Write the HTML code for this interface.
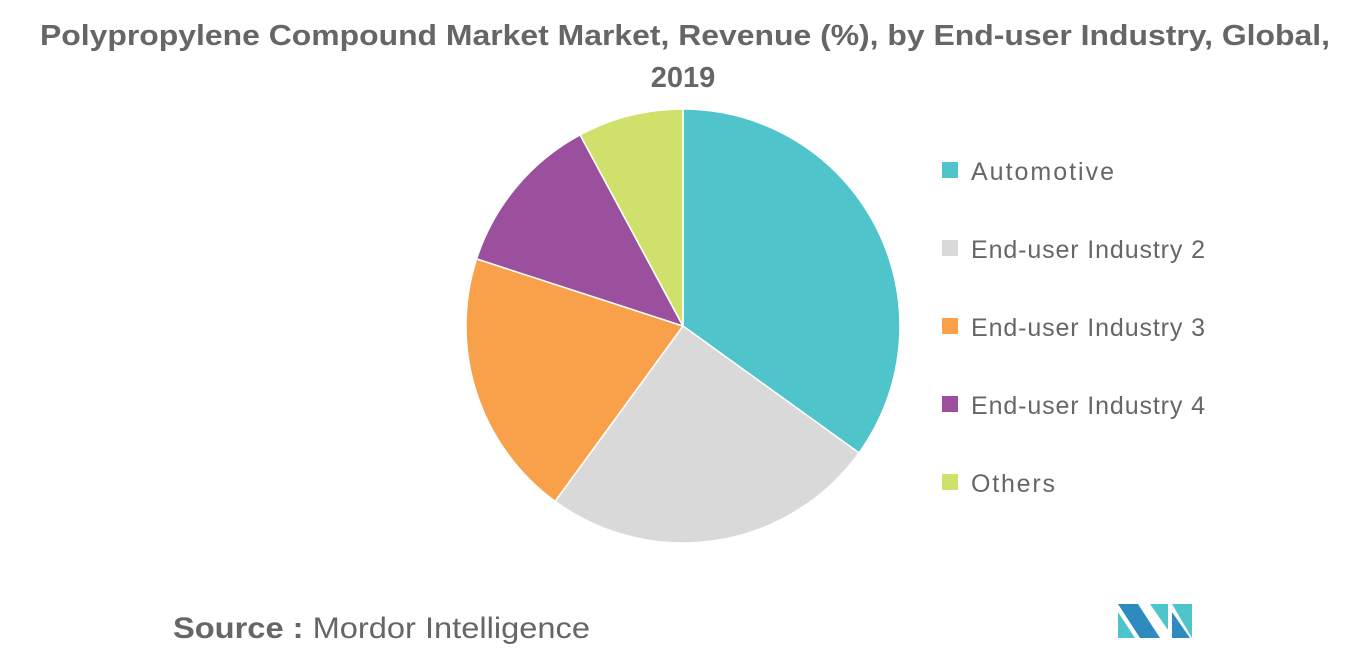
<!DOCTYPE html>
<html><head><meta charset="utf-8"><style>
body{margin:0;width:1366px;height:655px;background:#fff;overflow:hidden;font-family:"Liberation Sans",sans-serif}
</style></head><body>
<svg width="1366" height="655" xmlns="http://www.w3.org/2000/svg">
<text x="40" y="45" textLength="1290" lengthAdjust="spacingAndGlyphs" font-family="Liberation Sans, sans-serif" font-size="29" font-weight="bold" fill="#666">Polypropylene Compound Market Market, Revenue (%), by End-user Industry, Global,</text>
<text x="683" y="87" text-anchor="middle" font-family="Liberation Sans, sans-serif" font-size="29" font-weight="bold" fill="#666">2019</text>
<g stroke="#fff" stroke-width="1.5">
<path d="M683,326 L683,109 A217,217 0 0,1 859,452.9 Z" fill="#4FC4CA"/>
<path d="M683,326 L859,452.9 A217,217 0 0,1 555.1,501.3 Z" fill="#D9D9D9"/>
<path d="M683,326 L555.1,501.3 A217,217 0 0,1 476.6,258.9 Z" fill="#F9A04B"/>
<path d="M683,326 L476.6,258.9 A217,217 0 0,1 580.1,134.9 Z" fill="#9B509D"/>
<path d="M683,326 L580.1,134.9 A217,217 0 0,1 683,109 Z" fill="#D0E16B"/>
</g>
<g font-family="Liberation Sans, sans-serif" font-size="25" fill="#666" lengthAdjust="spacingAndGlyphs">
<rect x="942" y="162" width="16" height="16" fill="#4FC4CA"/><text x="971" y="180" textLength="143">Automotive</text>
<rect x="942" y="240" width="16" height="16" fill="#D9D9D9"/><text x="971" y="258" textLength="234">End-user Industry 2</text>
<rect x="942" y="318" width="16" height="16" fill="#F9A04B"/><text x="971" y="336" textLength="234">End-user Industry 3</text>
<rect x="942" y="396" width="16" height="16" fill="#9B509D"/><text x="971" y="414" textLength="234">End-user Industry 4</text>
<rect x="942" y="474" width="16" height="16" fill="#D0E16B"/><text x="971" y="492" textLength="84">Others</text>
</g>
<text x="173" y="638" textLength="417" lengthAdjust="spacingAndGlyphs" font-family="Liberation Sans, sans-serif" font-size="30" fill="#666"><tspan font-weight="bold">Source :</tspan> Mordor Intelligence</text>
<g>
<polygon points="1118,604 1138,604 1160,638 1140,638" fill="#2E8BC0"/>
<polygon points="1118,612 1135,638 1118,638" fill="#4FC4CA"/>
<polygon points="1150,604 1168,604 1168,630" fill="#4FC4CA"/>
<polygon points="1172,604 1192,604 1192,638" fill="#4FC4CA"/>
<polygon points="1172,612 1190,638 1172,638" fill="#2E8BC0"/>
</g>
</svg>
</body></html>
